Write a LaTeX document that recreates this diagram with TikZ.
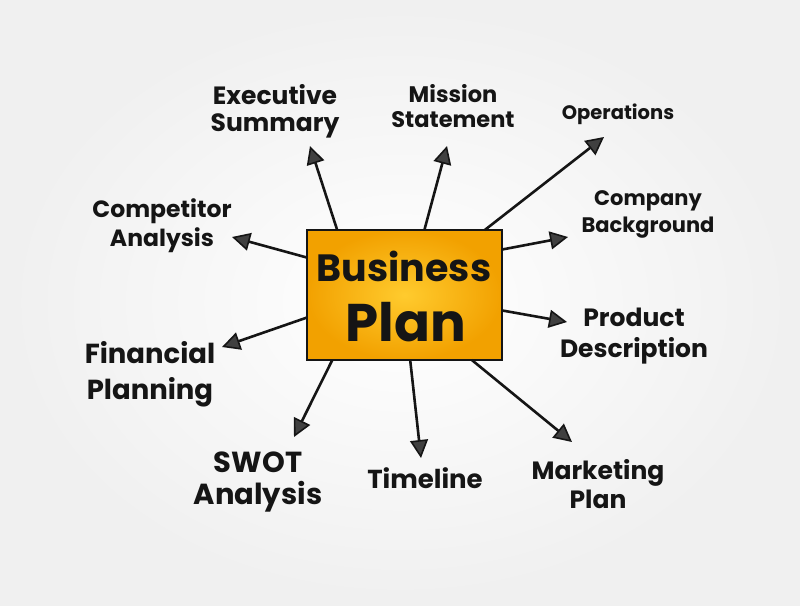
\documentclass[tikz,border=0pt]{standalone}
\usepackage{fontspec}
\setmainfont{Poppins}
\usetikzlibrary{arrows.meta,calc}
\definecolor{ink}{HTML}{151515}
\definecolor{boxedge}{HTML}{F2A100}
\definecolor{boxmid}{HTML}{FFCB2E}
\newcommand{\fs}[2]{\bfseries\fontsize{#1}{#2}\selectfont}
\tikzset{
  lbl/.style={align=center, text=ink, inner sep=0pt},
  conn/.style={line width=2.6pt, draw=ink, -{Triangle[length=18pt,width=18pt,fill=black!75,line width=1.6pt]}},
}
\begin{document}
\begin{tikzpicture}[x=1pt,y=-1pt]
\shade[inner color=white, outer color=black!6] (0,0) rectangle (800,605);
\useasboundingbox (0,0) rectangle (800,605);

% central box
\node[draw=ink, line width=2.5pt, inner color=boxmid, outer color=boxedge,
      minimum width=195pt, minimum height=130pt, outer sep=0pt, inner sep=0pt]
      (box) at (404.5,295) {};
\node[text=ink, font=\fs{38}{40}, inner sep=0pt] (t1) at (404,266) {Business};
\node[text=ink, font=\fs{53}{55}, inner sep=0pt] (t2) at (406,322) {Plan};

% labels
\node[lbl, font=\fs{25}{27}] (exec) at (275,111) {Executive\\Summary};
\node[lbl, font=\fs{22.5}{25}] (miss) at (453,106) {Mission\\Statement};
\node[lbl, font=\fs{19.5}{22}] (oper) at (618,114) {Operations};
\node[lbl, font=\fs{21}{27}] (comp) at (648,214) {Company\\Background};
\node[lbl, font=\fs{23.5}{29}] (compet) at (162,226) {Competitor\\Analysis};
\node[lbl, font=\fs{25}{31}] (prod) at (634,336) {Product\\Description};
\node[lbl, font=\fs{27.5}{36}] (fin) at (150,374) {Financial\\Planning};
\node[lbl, font=\fs{29}{32}] (swot) at (258,482) {SWOT\\Analysis};
\node[lbl, font=\fs{26}{28}] (time) at (425,478) {Timeline};
\node[lbl, font=\fs{25}{29}] (mark) at (598,484) {Marketing\\Plan};

% arrow tip points
\coordinate (cExec) at (310,146);
\coordinate (cMiss) at (447,146);
\coordinate (cOper) at (604,137);
\coordinate (cComp) at (568,237);
\coordinate (cCompet) at (232,237);
\coordinate (cProd) at (567,322);
\coordinate (cFin) at (222,347);
\coordinate (cSwot) at (294,437);
\coordinate (cTime) at (421,458);
\coordinate (cMark) at (572,442);

\draw[conn] (box.136.9) -- (cExec);
\draw[conn] (box.73.3) -- (cMiss);
\draw[conn] (box.39.3) -- (cOper);
\draw[conn] (box.25.3) -- (cComp);
\draw[conn] (box.159.2) -- (cCompet);
\draw[conn] (box.-9.9) -- (cProd);
\draw[conn] (box.193.3) -- (cFin);
\draw[conn] (box.222.7) -- (cSwot);
\draw[conn] (box.-85.2) -- (cTime);
\draw[conn] (box.-44.8) -- (cMark);
\end{tikzpicture}
\end{document}
